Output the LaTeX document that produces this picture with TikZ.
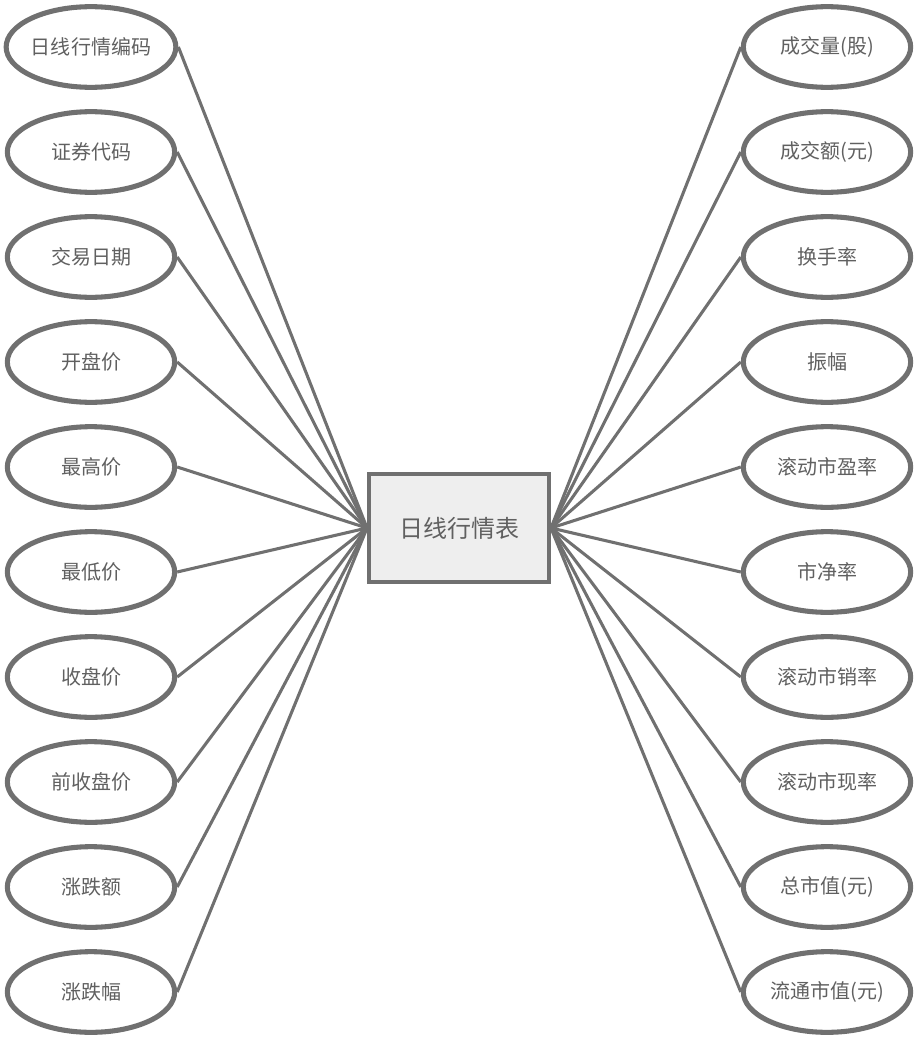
\documentclass[tikz,border=0pt]{standalone}
\usepackage{fontspec}
\setmainfont{Noto Sans CJK SC}
\usetikzlibrary{shapes.geometric}
\definecolor{lc}{HTML}{707070}
\definecolor{tc}{HTML}{606060}
\definecolor{bf}{HTML}{EEEEEE}
\tikzset{
  attr/.style={ellipse, draw=lc, line width=3.8pt, minimum width=125.5pt, minimum height=60.5pt, inner sep=0pt, text=tc, font=\fontsize{15pt}{17pt}\selectfont, fill=white},
  ent/.style={rectangle, draw=lc, fill=bf, line width=3pt, minimum width=135pt, minimum height=81pt, inner sep=0pt, text=tc, font=\fontsize{18pt}{20pt}\selectfont},
  conn/.style={draw=lc, line width=2.3pt}
}
\begin{document}
\begin{tikzpicture}[x=0.75pt,y=-0.75pt]
\useasboundingbox (0,0) rectangle (917,1056);
\node[ent] (e) at (459,528) {日线行情表};
\foreach \t [count=\i] in {日线行情编码,证券代码,交易日期,开盘价,最高价,最低价,收盘价,前收盘价,涨跌额,涨跌幅}{
  \node[attr] (l\i) at (91,{47+105*(\i-1)}) {\t};
  \draw[conn] (l\i.east) -- (e.west);
}
\foreach \t [count=\i] in {成交量(股),成交额(元),换手率,振幅,滚动市盈率,市净率,滚动市销率,滚动市现率,总市值(元),流通市值(元)}{
  \node[attr] (r\i) at (827,{47+105*(\i-1)}) {\t};
  \draw[conn] (r\i.west) -- (e.east);
}
\end{tikzpicture}
\end{document}
